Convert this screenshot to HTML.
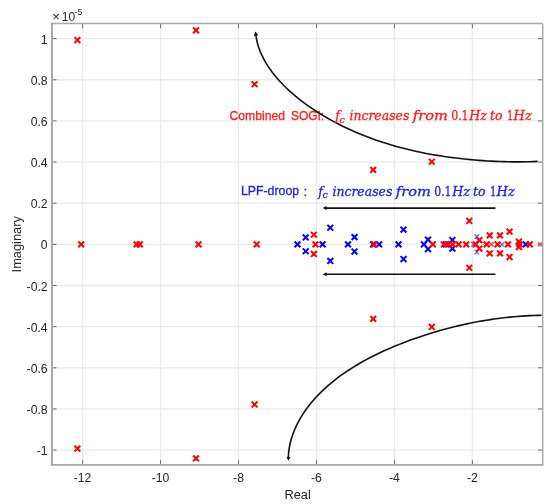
<!DOCTYPE html>
<html><head><meta charset="utf-8"><title>Pole map</title>
<style>html,body{margin:0;padding:0;background:#fff;width:550px;height:504px;overflow:hidden}svg{display:block}</style>
</head><body>
<svg width="550" height="504" viewBox="0 0 550 504">
<rect x="0" y="0" width="550" height="504" fill="#ffffff"/>
<path d="M82.60 23.6V464.8M160.56 23.6V464.8M238.52 23.6V464.8M316.48 23.6V464.8M394.44 23.6V464.8M472.40 23.6V464.8M51.95 450.10H542.7M51.95 408.95H542.7M51.95 367.80H542.7M51.95 326.65H542.7M51.95 285.50H542.7M51.95 244.35H542.7M51.95 203.20H542.7M51.95 162.05H542.7M51.95 120.90H542.7M51.95 79.75H542.7M51.95 38.60H542.7" stroke="#eaeaea" stroke-width="1.3" fill="none"/>
<path d="M82.60 464.8v-4.6M82.60 23.6v4.6M160.56 464.8v-4.6M160.56 23.6v4.6M238.52 464.8v-4.6M238.52 23.6v4.6M316.48 464.8v-4.6M316.48 23.6v4.6M394.44 464.8v-4.6M394.44 23.6v4.6M472.40 464.8v-4.6M472.40 23.6v4.6M51.95 450.10h4.6M542.7 450.10h-4.6M51.95 408.95h4.6M542.7 408.95h-4.6M51.95 367.80h4.6M542.7 367.80h-4.6M51.95 326.65h4.6M542.7 326.65h-4.6M51.95 285.50h4.6M542.7 285.50h-4.6M51.95 244.35h4.6M542.7 244.35h-4.6M51.95 203.20h4.6M542.7 203.20h-4.6M51.95 162.05h4.6M542.7 162.05h-4.6M51.95 120.90h4.6M542.7 120.90h-4.6M51.95 79.75h4.6M542.7 79.75h-4.6M51.95 38.60h4.6M542.7 38.60h-4.6" stroke="#6a6a6a" stroke-width="1" fill="none"/>
<path d="M294.60 241.45L300.40 247.25M294.60 247.25L300.40 241.45" stroke="#0000ff" stroke-width="2.0" fill="none"/>
<path d="M319.70 241.45L325.50 247.25M319.70 247.25L325.50 241.45" stroke="#0000ff" stroke-width="2.0" fill="none"/>
<path d="M345.10 241.45L350.90 247.25M345.10 247.25L350.90 241.45" stroke="#0000ff" stroke-width="2.0" fill="none"/>
<path d="M370.20 241.45L376.00 247.25M370.20 247.25L376.00 241.45" stroke="#0000ff" stroke-width="2.0" fill="none"/>
<path d="M376.20 241.45L382.00 247.25M376.20 247.25L382.00 241.45" stroke="#0000ff" stroke-width="2.0" fill="none"/>
<path d="M395.60 241.45L401.40 247.25M395.60 247.25L401.40 241.45" stroke="#0000ff" stroke-width="2.0" fill="none"/>
<path d="M421.00 241.45L426.80 247.25M421.00 247.25L426.80 241.45" stroke="#0000ff" stroke-width="2.0" fill="none"/>
<path d="M443.10 241.45L448.90 247.25M443.10 247.25L448.90 241.45" stroke="#0000ff" stroke-width="2.0" fill="none"/>
<path d="M522.90 241.45L528.70 247.25M522.90 247.25L528.70 241.45" stroke="#0000ff" stroke-width="2.0" fill="none"/>
<path d="M302.80 234.55L308.60 240.35M302.80 240.35L308.60 234.55" stroke="#0000ff" stroke-width="2.0" fill="none"/>
<path d="M302.80 248.35L308.60 254.15M302.80 254.15L308.60 248.35" stroke="#0000ff" stroke-width="2.0" fill="none"/>
<path d="M327.40 224.85L333.20 230.65M327.40 230.65L333.20 224.85" stroke="#0000ff" stroke-width="2.0" fill="none"/>
<path d="M327.40 258.05L333.20 263.85M327.40 263.85L333.20 258.05" stroke="#0000ff" stroke-width="2.0" fill="none"/>
<path d="M351.60 234.25L357.40 240.05M351.60 240.05L357.40 234.25" stroke="#0000ff" stroke-width="2.0" fill="none"/>
<path d="M351.60 248.65L357.40 254.45M351.60 254.45L357.40 248.65" stroke="#0000ff" stroke-width="2.0" fill="none"/>
<path d="M400.60 226.75L406.40 232.55M400.60 232.55L406.40 226.75" stroke="#0000ff" stroke-width="2.0" fill="none"/>
<path d="M400.60 256.15L406.40 261.95M400.60 261.95L406.40 256.15" stroke="#0000ff" stroke-width="2.0" fill="none"/>
<path d="M425.10 236.75L430.90 242.55M425.10 242.55L430.90 236.75" stroke="#0000ff" stroke-width="2.0" fill="none"/>
<path d="M425.10 246.15L430.90 251.95M425.10 251.95L430.90 246.15" stroke="#0000ff" stroke-width="2.0" fill="none"/>
<path d="M449.50 237.15L455.30 242.95M449.50 242.95L455.30 237.15" stroke="#0000ff" stroke-width="2.0" fill="none"/>
<path d="M449.50 245.75L455.30 251.55M449.50 251.55L455.30 245.75" stroke="#0000ff" stroke-width="2.0" fill="none"/>
<path d="M474.60 234.25L479.20 238.85M474.60 238.85L479.20 234.25" stroke="#5a5aff" stroke-width="1.2" fill="none"/>
<path d="M474.60 249.85L479.20 254.45M474.60 254.45L479.20 249.85" stroke="#5a5aff" stroke-width="1.2" fill="none"/>
<path d="M471.10 242.05L475.70 246.65M471.10 246.65L475.70 242.05" stroke="#5a5aff" stroke-width="1.2" fill="none"/>
<path d="M499.70 242.05L504.30 246.65M499.70 246.65L504.30 242.05" stroke="#5a5aff" stroke-width="1.2" fill="none"/>
<path d="M489.20 242.15L493.60 246.55M489.20 246.55L493.60 242.15" stroke="#ff4040" stroke-width="1.4" fill="none"/>
<path d="M538.00 242.15L542.40 246.55M538.00 246.55L542.40 242.15" stroke="#ff4040" stroke-width="1.4" fill="none"/>
<path d="M74.50 37.15L80.30 42.95M74.50 42.95L80.30 37.15" stroke="#ff0000" stroke-width="2.0" fill="none"/>
<path d="M74.50 445.75L80.30 451.55M74.50 451.55L80.30 445.75" stroke="#ff0000" stroke-width="2.0" fill="none"/>
<path d="M193.10 27.45L198.90 33.25M193.10 33.25L198.90 27.45" stroke="#ff0000" stroke-width="2.0" fill="none"/>
<path d="M193.10 455.45L198.90 461.25M193.10 461.25L198.90 455.45" stroke="#ff0000" stroke-width="2.0" fill="none"/>
<path d="M251.70 81.35L257.50 87.15M251.70 87.15L257.50 81.35" stroke="#ff0000" stroke-width="2.0" fill="none"/>
<path d="M251.70 401.55L257.50 407.35M251.70 407.35L257.50 401.55" stroke="#ff0000" stroke-width="2.0" fill="none"/>
<path d="M370.30 166.95L376.10 172.75M370.30 172.75L376.10 166.95" stroke="#ff0000" stroke-width="2.0" fill="none"/>
<path d="M370.30 315.95L376.10 321.75M370.30 321.75L376.10 315.95" stroke="#ff0000" stroke-width="2.0" fill="none"/>
<path d="M428.90 158.85L434.70 164.65M428.90 164.65L434.70 158.85" stroke="#ff0000" stroke-width="2.0" fill="none"/>
<path d="M428.90 324.05L434.70 329.85M428.90 329.85L434.70 324.05" stroke="#ff0000" stroke-width="2.0" fill="none"/>
<path d="M466.40 218.05L472.20 223.85M466.40 223.85L472.20 218.05" stroke="#ff0000" stroke-width="2.0" fill="none"/>
<path d="M466.40 264.85L472.20 270.65M466.40 270.65L472.20 264.85" stroke="#ff0000" stroke-width="2.0" fill="none"/>
<path d="M311.00 231.85L316.80 237.65M311.00 237.65L316.80 231.85" stroke="#ff0000" stroke-width="2.0" fill="none"/>
<path d="M311.00 251.05L316.80 256.85M311.00 256.85L316.80 251.05" stroke="#ff0000" stroke-width="2.0" fill="none"/>
<path d="M476.40 237.25L482.20 243.05M476.40 243.05L482.20 237.25" stroke="#ff0000" stroke-width="2.0" fill="none"/>
<path d="M476.40 245.65L482.20 251.45M476.40 251.45L482.20 245.65" stroke="#ff0000" stroke-width="2.0" fill="none"/>
<path d="M486.80 232.45L492.60 238.25M486.80 238.25L492.60 232.45" stroke="#ff0000" stroke-width="2.0" fill="none"/>
<path d="M486.80 250.45L492.60 256.25M486.80 256.25L492.60 250.45" stroke="#ff0000" stroke-width="2.0" fill="none"/>
<path d="M497.10 232.45L502.90 238.25M497.10 238.25L502.90 232.45" stroke="#ff0000" stroke-width="2.0" fill="none"/>
<path d="M497.10 250.45L502.90 256.25M497.10 256.25L502.90 250.45" stroke="#ff0000" stroke-width="2.0" fill="none"/>
<path d="M506.70 228.75L512.50 234.55M506.70 234.55L512.50 228.75" stroke="#ff0000" stroke-width="2.0" fill="none"/>
<path d="M506.70 254.15L512.50 259.95M506.70 259.95L512.50 254.15" stroke="#ff0000" stroke-width="2.0" fill="none"/>
<path d="M516.00 238.75L521.80 244.55M516.00 244.55L521.80 238.75" stroke="#ff0000" stroke-width="2.0" fill="none"/>
<path d="M516.00 244.15L521.80 249.95M516.00 249.95L521.80 244.15" stroke="#ff0000" stroke-width="2.0" fill="none"/>
<path d="M78.30 241.45L84.10 247.25M78.30 247.25L84.10 241.45" stroke="#ff0000" stroke-width="2.0" fill="none"/>
<path d="M133.70 241.45L139.50 247.25M133.70 247.25L139.50 241.45" stroke="#ff0000" stroke-width="2.0" fill="none"/>
<path d="M136.90 241.45L142.70 247.25M136.90 247.25L142.70 241.45" stroke="#ff0000" stroke-width="2.0" fill="none"/>
<path d="M195.60 241.45L201.40 247.25M195.60 247.25L201.40 241.45" stroke="#ff0000" stroke-width="2.0" fill="none"/>
<path d="M253.80 241.45L259.60 247.25M253.80 247.25L259.60 241.45" stroke="#ff0000" stroke-width="2.0" fill="none"/>
<path d="M312.60 241.45L318.40 247.25M312.60 247.25L318.40 241.45" stroke="#ff0000" stroke-width="2.0" fill="none"/>
<path d="M371.30 241.45L377.10 247.25M371.30 247.25L377.10 241.45" stroke="#ff0000" stroke-width="2.0" fill="none"/>
<path d="M430.00 241.45L435.80 247.25M430.00 247.25L435.80 241.45" stroke="#ff0000" stroke-width="2.0" fill="none"/>
<path d="M441.00 241.45L446.80 247.25M441.00 247.25L446.80 241.45" stroke="#ff0000" stroke-width="2.0" fill="none"/>
<path d="M445.10 241.45L450.90 247.25M445.10 247.25L450.90 241.45" stroke="#ff0000" stroke-width="2.0" fill="none"/>
<path d="M449.60 241.45L455.40 247.25M449.60 247.25L455.40 241.45" stroke="#ff0000" stroke-width="2.0" fill="none"/>
<path d="M455.70 241.45L461.50 247.25M455.70 247.25L461.50 241.45" stroke="#ff0000" stroke-width="2.0" fill="none"/>
<path d="M463.30 241.45L469.10 247.25M463.30 247.25L469.10 241.45" stroke="#ff0000" stroke-width="2.0" fill="none"/>
<path d="M472.90 241.45L478.70 247.25M472.90 247.25L478.70 241.45" stroke="#ff0000" stroke-width="2.0" fill="none"/>
<path d="M483.70 241.45L489.50 247.25M483.70 247.25L489.50 241.45" stroke="#ff0000" stroke-width="2.0" fill="none"/>
<path d="M494.70 241.45L500.50 247.25M494.70 247.25L500.50 241.45" stroke="#ff0000" stroke-width="2.0" fill="none"/>
<path d="M505.10 241.45L510.90 247.25M505.10 247.25L510.90 241.45" stroke="#ff0000" stroke-width="2.0" fill="none"/>
<path d="M516.60 241.45L522.40 247.25M516.60 247.25L522.40 241.45" stroke="#ff0000" stroke-width="2.0" fill="none"/>
<path d="M526.90 241.45L532.70 247.25M526.90 247.25L532.70 241.45" stroke="#ff0000" stroke-width="2.0" fill="none"/>
<path d="M51.95 23.6H542.7" stroke="#a8a8a8" stroke-width="1.5" fill="none"/>
<path d="M542.7 23.6V464.8" stroke="#a8a8a8" stroke-width="1.5" fill="none"/>
<path d="M51.95 22.85V465.7" stroke="#a8a8a8" stroke-width="2.0" fill="none"/>
<path d="M50.95 464.8H543.45" stroke="#a8a8a8" stroke-width="1.8" fill="none"/>
<path d="M255.30 31.60L258.24 35.32L253.92 36.13Z" fill="#111111"/>
<path d="M288.20 460.80L286.55 456.84L290.53 457.19Z" fill="#111111"/>
<path d="M325 208.1H495.4" stroke="#111111" stroke-width="1.6" fill="none"/>
<path d="M322.60 208.10L326.60 206.10L326.60 210.10Z" fill="#111111"/>
<path d="M325 274.2H495.4" stroke="#111111" stroke-width="1.6" fill="none"/>
<path d="M322.60 274.20L326.60 272.20L326.60 276.20Z" fill="#111111"/>
<text x="82.60" y="481.8" font-family='"Liberation Sans", Arial, sans-serif' font-size="12.2" fill="#262626" text-anchor="middle">-12</text>
<text x="160.56" y="481.8" font-family='"Liberation Sans", Arial, sans-serif' font-size="12.2" fill="#262626" text-anchor="middle">-10</text>
<text x="238.52" y="481.8" font-family='"Liberation Sans", Arial, sans-serif' font-size="12.2" fill="#262626" text-anchor="middle">-8</text>
<text x="316.48" y="481.8" font-family='"Liberation Sans", Arial, sans-serif' font-size="12.2" fill="#262626" text-anchor="middle">-6</text>
<text x="394.44" y="481.8" font-family='"Liberation Sans", Arial, sans-serif' font-size="12.2" fill="#262626" text-anchor="middle">-4</text>
<text x="472.40" y="481.8" font-family='"Liberation Sans", Arial, sans-serif' font-size="12.2" fill="#262626" text-anchor="middle">-2</text>
<text x="47.6" y="455.20" font-family='"Liberation Sans", Arial, sans-serif' font-size="12.2" fill="#262626" text-anchor="end">-1</text>
<text x="47.6" y="414.05" font-family='"Liberation Sans", Arial, sans-serif' font-size="12.2" fill="#262626" text-anchor="end">-0.8</text>
<text x="47.6" y="372.90" font-family='"Liberation Sans", Arial, sans-serif' font-size="12.2" fill="#262626" text-anchor="end">-0.6</text>
<text x="47.6" y="331.75" font-family='"Liberation Sans", Arial, sans-serif' font-size="12.2" fill="#262626" text-anchor="end">-0.4</text>
<text x="47.6" y="290.60" font-family='"Liberation Sans", Arial, sans-serif' font-size="12.2" fill="#262626" text-anchor="end">-0.2</text>
<text x="47.6" y="249.45" font-family='"Liberation Sans", Arial, sans-serif' font-size="12.2" fill="#262626" text-anchor="end">0</text>
<text x="47.6" y="208.30" font-family='"Liberation Sans", Arial, sans-serif' font-size="12.2" fill="#262626" text-anchor="end">0.2</text>
<text x="47.6" y="167.15" font-family='"Liberation Sans", Arial, sans-serif' font-size="12.2" fill="#262626" text-anchor="end">0.4</text>
<text x="47.6" y="126.00" font-family='"Liberation Sans", Arial, sans-serif' font-size="12.2" fill="#262626" text-anchor="end">0.6</text>
<text x="47.6" y="84.85" font-family='"Liberation Sans", Arial, sans-serif' font-size="12.2" fill="#262626" text-anchor="end">0.8</text>
<text x="47.6" y="43.70" font-family='"Liberation Sans", Arial, sans-serif' font-size="12.2" fill="#262626" text-anchor="end">1</text>
<text x="52.3" y="21.3" font-family='"Liberation Sans", Arial, sans-serif' font-size="13.2" fill="#262626">×</text>
<text x="61.8" y="20.6" font-family='"Liberation Sans", Arial, sans-serif' font-size="12" fill="#262626">10</text>
<text x="74.6" y="14.8" font-family='"Liberation Sans", Arial, sans-serif' font-size="8.6" fill="#262626">-5</text>
<text x="297.6" y="498.8" font-family='"Liberation Sans", Arial, sans-serif' font-size="12.8" fill="#262626" text-anchor="middle">Real</text>
<text transform="translate(20.9 244.3) rotate(-90)" x="0" y="0" font-family='"Liberation Sans", Arial, sans-serif' font-size="12.8" fill="#262626" text-anchor="middle">Imaginary</text>
<text x="229.60" y="120.1" font-family='"Liberation Sans", Arial, sans-serif' font-size="13.5" fill="#ff1a1a" stroke="#ff1a1a" stroke-width="0.3" textLength="55.3" lengthAdjust="spacingAndGlyphs">Combined</text>
<text x="291.00" y="120.1" font-family='"Liberation Sans", Arial, sans-serif' font-size="13.5" fill="#ff1a1a" stroke="#ff1a1a" stroke-width="0.3" textLength="33.2" lengthAdjust="spacingAndGlyphs">SOGI:</text>
<text x="240.90" y="195.3" font-family='"Liberation Sans", Arial, sans-serif' font-size="13.5" fill="#2020e6" stroke="#2020e6" stroke-width="0.3" textLength="58.2" lengthAdjust="spacingAndGlyphs">LPF-droop</text>
<text x="303.60" y="195.5" font-family='"Liberation Sans", Arial, sans-serif' font-size="13.5" fill="#2020e6" stroke="#2020e6" stroke-width="0.3">:</text>
<path d="M255.80 34.50L256.44 38.76L257.36 42.91L258.54 46.95L259.96 50.89L261.60 54.72L263.43 58.45L265.44 62.09L267.61 65.63L269.94 69.08L272.40 72.44L274.99 75.71L277.70 78.90L280.50 82.01L283.40 85.03L286.39 87.98L289.46 90.85L292.60 93.64L295.80 96.36L299.07 99.01L302.39 101.59L305.76 104.10L309.18 106.55L312.65 108.92L316.15 111.24L319.69 113.49L323.27 115.67L326.89 117.80L330.53 119.86L334.21 121.87L337.91 123.81L341.65 125.70L345.40 127.53L349.19 129.30L353.00 131.02L356.83 132.68L360.69 134.29L364.56 135.85L368.46 137.35L372.38 138.80L376.32 140.19L380.28 141.54L384.26 142.84L388.25 144.08L392.27 145.28L396.30 146.42L400.34 147.52L404.40 148.58L408.47 149.58L412.56 150.54L416.66 151.46L420.77 152.33L424.89 153.16L429.02 153.95L433.15 154.69L437.30 155.40L441.45 156.06L445.61 156.68L449.77 157.27L453.94 157.82L458.10 158.33L462.28 158.81L466.45 159.25L470.62 159.65L474.80 160.02L478.97 160.36L483.15 160.66L487.32 160.93L491.50 161.17L495.67 161.37L499.85 161.54L504.02 161.67L508.20 161.77L512.38 161.84L516.56 161.87L520.75 161.86L524.95 161.81L529.15 161.72L533.37 161.58L537.60 161.40" stroke="#111111" stroke-width="1.6" fill="none" stroke-linejoin="round"/><path d="M288.30 457.50L288.53 453.50L288.99 449.53L289.66 445.61L290.53 441.75L291.60 437.93L292.85 434.18L294.27 430.49L295.85 426.87L297.58 423.31L299.45 419.83L301.45 416.42L303.57 413.08L305.81 409.81L308.17 406.63L310.62 403.52L313.17 400.48L315.81 397.52L318.53 394.64L321.33 391.83L324.20 389.09L327.14 386.43L330.14 383.84L333.21 381.32L336.32 378.86L339.49 376.48L342.71 374.16L345.97 371.91L349.28 369.72L352.62 367.59L356.00 365.51L359.41 363.50L362.85 361.54L366.33 359.63L369.83 357.78L373.36 355.97L376.91 354.22L380.48 352.51L384.08 350.85L387.69 349.23L391.32 347.65L394.98 346.11L398.65 344.62L402.33 343.16L406.03 341.74L409.74 340.36L413.47 339.02L417.21 337.71L420.97 336.44L424.73 335.20L428.51 334.00L432.30 332.83L436.10 331.70L439.91 330.60L443.73 329.53L447.56 328.51L451.40 327.51L455.25 326.55L459.11 325.63L462.98 324.75L466.85 323.90L470.74 323.09L474.63 322.32L478.52 321.58L482.43 320.89L486.34 320.23L490.26 319.62L494.18 319.04L498.11 318.51L502.05 318.02L505.99 317.56L509.93 317.15L513.88 316.78L517.83 316.45L521.79 316.15L525.75 315.89L529.71 315.67L533.67 315.48L537.63 315.33L541.60 315.20" stroke="#111111" stroke-width="1.6" fill="none" stroke-linejoin="round"/>
<text x="335.20" y="120.1" font-family='"DejaVu Serif", "Liberation Serif", serif' font-size="12.5" font-style="italic" fill="#ff1a1a" stroke="#ff1a1a" stroke-width="0.3">f</text><text x="339.60" y="122.69999999999999" font-family='"DejaVu Serif", "Liberation Serif", serif' font-size="9.5" font-style="italic" fill="#ff1a1a" stroke="#ff1a1a" stroke-width="0.3">c</text><text x="349.40" y="120.1" font-family='"DejaVu Serif", "Liberation Serif", serif' font-size="12.5" font-style="italic" fill="#ff1a1a" stroke="#ff1a1a" stroke-width="0.3" textLength="60.0" lengthAdjust="spacingAndGlyphs">increases</text><text x="412.80" y="120.1" font-family='"DejaVu Serif", "Liberation Serif", serif' font-size="12.5" font-style="italic" fill="#ff1a1a" stroke="#ff1a1a" stroke-width="0.3" textLength="35.0" lengthAdjust="spacingAndGlyphs">from</text><text x="451.20" y="120.1" font-family='"DejaVu Serif", "Liberation Serif", serif' font-size="13" fill="#ff1a1a" stroke="#ff1a1a" stroke-width="0.3" textLength="17.4" lengthAdjust="spacingAndGlyphs">0.1</text><text x="469.20" y="120.1" font-family='"DejaVu Serif", "Liberation Serif", serif' font-size="12.5" font-style="italic" fill="#ff1a1a" stroke="#ff1a1a" stroke-width="0.3" textLength="17.8" lengthAdjust="spacingAndGlyphs">Hz</text><text x="490.00" y="120.1" font-family='"DejaVu Serif", "Liberation Serif", serif' font-size="12.5" font-style="italic" fill="#ff1a1a" stroke="#ff1a1a" stroke-width="0.3" textLength="12.6" lengthAdjust="spacingAndGlyphs">to</text><text x="507.00" y="120.1" font-family='"DejaVu Serif", "Liberation Serif", serif' font-size="13" fill="#ff1a1a" stroke="#ff1a1a" stroke-width="0.3" textLength="6.4" lengthAdjust="spacingAndGlyphs">1</text><text x="513.60" y="120.1" font-family='"DejaVu Serif", "Liberation Serif", serif' font-size="12.5" font-style="italic" fill="#ff1a1a" stroke="#ff1a1a" stroke-width="0.3" textLength="18.2" lengthAdjust="spacingAndGlyphs">Hz</text>
<text x="318.20" y="195.7" font-family='"DejaVu Serif", "Liberation Serif", serif' font-size="12.5" font-style="italic" fill="#2020e6" stroke="#2020e6" stroke-width="0.3">f</text><text x="322.60" y="198.29999999999998" font-family='"DejaVu Serif", "Liberation Serif", serif' font-size="9.5" font-style="italic" fill="#2020e6" stroke="#2020e6" stroke-width="0.3">c</text><text x="332.40" y="195.7" font-family='"DejaVu Serif", "Liberation Serif", serif' font-size="12.5" font-style="italic" fill="#2020e6" stroke="#2020e6" stroke-width="0.3" textLength="60.0" lengthAdjust="spacingAndGlyphs">increases</text><text x="395.80" y="195.7" font-family='"DejaVu Serif", "Liberation Serif", serif' font-size="12.5" font-style="italic" fill="#2020e6" stroke="#2020e6" stroke-width="0.3" textLength="35.0" lengthAdjust="spacingAndGlyphs">from</text><text x="434.20" y="195.7" font-family='"DejaVu Serif", "Liberation Serif", serif' font-size="13" fill="#2020e6" stroke="#2020e6" stroke-width="0.3" textLength="17.4" lengthAdjust="spacingAndGlyphs">0.1</text><text x="452.20" y="195.7" font-family='"DejaVu Serif", "Liberation Serif", serif' font-size="12.5" font-style="italic" fill="#2020e6" stroke="#2020e6" stroke-width="0.3" textLength="17.8" lengthAdjust="spacingAndGlyphs">Hz</text><text x="473.00" y="195.7" font-family='"DejaVu Serif", "Liberation Serif", serif' font-size="12.5" font-style="italic" fill="#2020e6" stroke="#2020e6" stroke-width="0.3" textLength="12.6" lengthAdjust="spacingAndGlyphs">to</text><text x="490.00" y="195.7" font-family='"DejaVu Serif", "Liberation Serif", serif' font-size="13" fill="#2020e6" stroke="#2020e6" stroke-width="0.3" textLength="6.4" lengthAdjust="spacingAndGlyphs">1</text><text x="496.60" y="195.7" font-family='"DejaVu Serif", "Liberation Serif", serif' font-size="12.5" font-style="italic" fill="#2020e6" stroke="#2020e6" stroke-width="0.3" textLength="18.2" lengthAdjust="spacingAndGlyphs">Hz</text>
</svg>
</body></html>
